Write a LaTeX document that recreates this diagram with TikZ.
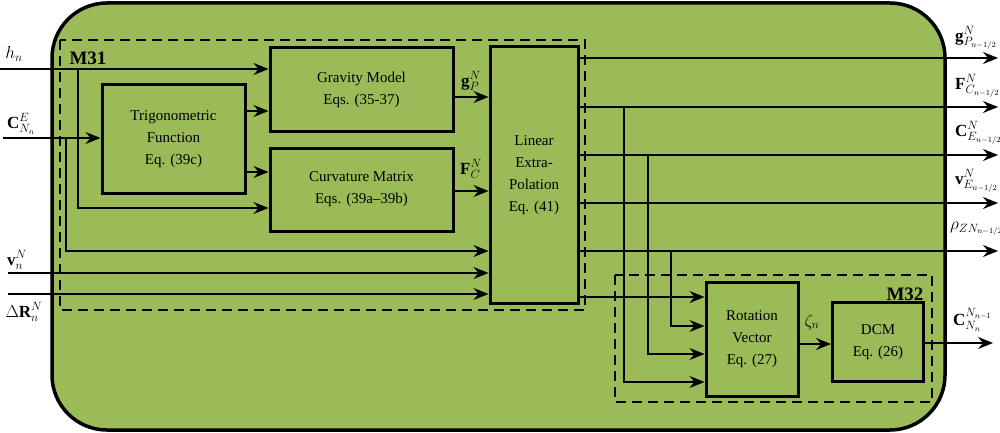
\documentclass[tikz,border=0pt]{standalone}
\usepackage{fontspec}
\setmainfont{Liberation Serif}
\usetikzlibrary{arrows.meta}
\definecolor{bg}{HTML}{9BBB59}
\begin{document}
\begin{tikzpicture}[x=1pt,y=-1pt,
  box/.style={draw,line width=3pt,fill=bg,align=center,font=\fontsize{15}{22}\selectfont,inner sep=0pt},
  arr/.style={line width=1.8pt,-{Stealth[length=15pt,width=12pt,inset=5pt]}},
  ln/.style={line width=1.8pt},
  dsh/.style={line width=2pt,dash pattern=on 10pt off 6pt},
  lab/.style={font=\fontsize{17}{17}\selectfont,inner sep=0pt}]
\useasboundingbox (0,0) rectangle (1000,433);
\draw[line width=3.5pt,fill=bg,rounded corners=55pt] (52,3) rectangle (945,430);
\draw[dsh] (60,40) rectangle (585,310);
\draw[dsh] (615,275) rectangle (932,402);
\node[font=\bfseries\fontsize{19}{19}\selectfont,inner sep=0pt] (m31) at (88,58) {M31};
\node[font=\bfseries\fontsize{19}{19}\selectfont,inner sep=0pt] (m32) at (905,294) {M32};
\node[box,minimum width=183pt,minimum height=83pt] (grav) at (361.5,89.5) {Gravity Model\\Eqs. (35-37)};
\node[box,minimum width=143pt,minimum height=108pt] (trig) at (173.5,139) {Trigonometric\\Function\\Eq. (39c)};
\node[box,minimum width=183pt,minimum height=83pt] (curv) at (361.5,189.5) {Curvature Matrix\\Eqs. (39a--39b)};
\node[box,minimum width=88pt,minimum height=256pt] (lin) at (534,175) {Linear\\Extra-\\Polation\\Eq. (41)};
\node[box,minimum width=92pt,minimum height=114pt] (rot) at (752,339) {Rotation\\Vector\\Eq. (27)};
\node[box,minimum width=91pt,minimum height=79pt] (dcm) at (878,342) {DCM\\Eq. (26)};
% inputs
\coordinate (hin) at (0,69);
\coordinate (cin) at (3,138);
\coordinate (vin) at (8,273);
\coordinate (rin) at (8,294);
\node[lab] (hl) at (14,54) {$h_n$};
\node[lab] (cl) at (21,124) {$\mathbf{C}^{E}_{N_n}$};
\node[lab] (vl) at (17,260) {$\mathbf{v}^{N}_{n}$};
\node[lab] (rl) at (24,312) {$\Delta\mathbf{R}^{N}_{n}$};
\draw[arr] (hin) -- (hin -| grav.west);
\coordinate (hb) at (78,69);
\draw[arr] (hb) |- (curv.west |- 0,208);
\draw[arr] (cin) -- (cin -| trig.west);
\coordinate (cb) at (66,138);
\draw[arr] (cb) |- (lin.west |- 0,251);
\draw[arr] (vin) -- (vin -| lin.west);
\draw[arr] (rin) -- (rin -| lin.west);
\draw[arr] (trig.east |- 0,111) -- (grav.west |- 0,111);
\draw[arr] (trig.east |- 0,172) -- (curv.west |- 0,172);
\draw[arr] (grav.east |- 0,97) -- (lin.west |- 0,97);
\draw[arr] (curv.east |- 0,191) -- (lin.west |- 0,191);
\node[lab] (gl) at (471,81) {$\mathbf{g}^{N}_{P}$};
\node[lab] (fl) at (471,169) {$\mathbf{F}^{N}_{C}$};
% outputs
\foreach \y/\n in {58/o1,107/o2,155/o3,203/o4,251/o5} {
  \coordinate (\n) at (998,\y);
  \draw[arr] (lin.east |- \n) -- (\n);
}
\node[lab,anchor=west] (ol1) at (955,38) {$\mathbf{g}^{N}_{P_{n-1/2}}$};
\node[lab,anchor=west] (ol2) at (955,86) {$\mathbf{F}^{N}_{C_{n-1/2}}$};
\node[lab,anchor=west] (ol3) at (955,133) {$\mathbf{C}^{N}_{E_{n-1/2}}$};
\node[lab,anchor=west] (ol4) at (955,181) {$\mathbf{v}^{N}_{E_{n-1/2}}$};
\node[lab,anchor=west] (ol5) at (950,229) {$\rho_{ZN_{n-1/2}}$};
\coordinate (t1) at (624,107);
\coordinate (t2) at (648,155);
\coordinate (t3) at (671,251);
\draw[arr] (t1) |- (rot.west |- 0,382);
\draw[arr] (t2) |- (rot.west |- 0,354);
\draw[arr] (t3) |- (rot.west |- 0,326);
\draw[arr] (lin.east |- 0,297) -- (rot.west |- 0,297);
\draw[arr] (rot.east |- 0,344) -- (dcm.west |- 0,344);
\node[lab] (zl) at (812,322) {$\zeta_n$};
\coordinate (oc) at (993,343);
\draw[arr] (dcm.east |- oc) -- (oc);
\node[lab,anchor=west] (ocl) at (953,320) {$\mathbf{C}^{N_{n-1}}_{N_n}$};
\end{tikzpicture}
\end{document}
